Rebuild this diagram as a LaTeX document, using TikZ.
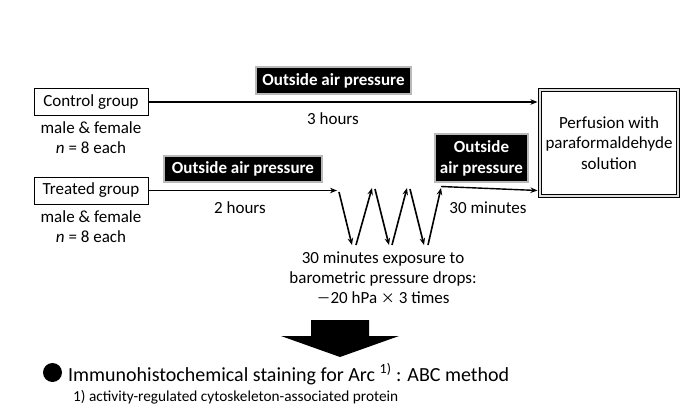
\documentclass[tikz,border=0pt]{standalone}
\usepackage{fontspec}
\setmainfont{Carlito}
\newfontfamily\cjk{Noto Sans CJK JP}
\usetikzlibrary{arrows.meta}
\begin{document}
\begin{tikzpicture}[x=1pt,y=-1pt,
  grp/.style={draw, line width=0.6pt, minimum width=114pt, minimum height=27pt, inner sep=0pt, font=\fontsize{17}{20}\selectfont},
  txt/.style={inner sep=0pt, font=\fontsize{17}{20}\selectfont},
  blk/.style={fill=black, draw=gray!55, line width=1.2pt, text=white, inner sep=0pt, align=center, font=\bfseries\fontsize{17}{20}\selectfont},
  arr/.style={-{Stealth[length=7pt,width=5.5pt]}, line width=1.4pt},
  zz/.style={-{Stealth[length=7pt,width=5.5pt]}, line width=1.6pt}
]
\useasboundingbox (0,0) rectangle (685,412);
% groups
\node[grp] (cg) at (91,102) {Control group};
\node[txt] (cg1) at (91,128) {male \& female};
\node[txt] (cg2) at (91,148) {\textit{n} = 8 each};
\node[grp] (tg) at (91,190.5) {Treated group};
\node[txt] (tg1) at (91,217) {male \& female};
\node[txt] (tg2) at (91,237) {\textit{n} = 8 each};
% perfusion box
\node[draw, line width=1.1pt, double=gray!25, double distance=2.2pt, minimum width=137.6pt, minimum height=105.6pt, inner sep=0pt, align=center, font=\fontsize{17}{20.5}\selectfont] (pf) at (609,143) {Perfusion with\\paraformaldehyde\\solution};
% black labels
\node[blk, minimum width=155pt, minimum height=27pt] (op1) at (333.5,80.5) {Outside air pressure};
\node[blk, minimum width=158pt, minimum height=26pt] (op2) at (243,169) {Outside air pressure};
\node[blk, minimum width=93pt, minimum height=48pt, font=\bfseries\fontsize{17}{21}\selectfont] (op3) at (481.5,158) {Outside\\air pressure};
% duration labels
\node[txt] (h3) at (333,119) {3 hours};
\node[txt] (h2) at (240,208) {2 hours};
\node[txt] (m30) at (488,208) {30 minutes};
\node[txt, align=center, font=\fontsize{17}{20}\selectfont] (exp) at (383,277.5) {30 minutes exposure to\\barometric pressure drops:\\{\cjk\fontsize{14}{14}\selectfont －}20 hPa {\cjk\fontsize{14}{14}\selectfont ×} 3 times};
% control arrow
\coordinate (pfa) at ([xshift=-2.2pt]pf.west |- cg.east);
\draw[arr] (cg.east) -- (pfa);
% treated arrow and zigzag
\coordinate (z0) at (337,190.5);
\coordinate (a0) at (339,192);
\coordinate (b1) at (352,245);
\coordinate (a1) at (356,245);
\coordinate (t1) at (372,188);
\coordinate (a2) at (375,189);
\coordinate (b2) at (389,245);
\coordinate (a3) at (392,245);
\coordinate (t2) at (407,188);
\coordinate (a4) at (410,189);
\coordinate (b3) at (424,245);
\coordinate (a5) at (428,245);
\coordinate (t3) at (441,188);
\coordinate (pfb) at ([xshift=-2.2pt]pf.west |- z0);
\draw[arr] (tg.east) -- (z0);
\draw[zz] (a0) -- (b1);
\draw[zz] (a1) -- (t1);
\draw[zz] (a2) -- (b2);
\draw[zz] (a3) -- (t2);
\draw[zz] (a4) -- (b3);
\draw[zz] (a5) -- (t3);
\draw[arr] ([yshift=1.5pt]t3) -- (pfb);
% big down arrow
\fill (311,320) -- (369,320) -- (369,336) -- (399,336) -- (340,357) -- (281,336) -- (311,336) -- cycle;
% bottom text
\fill (52.5,372.5) circle (9.5pt);
\node[anchor=west, inner sep=0pt, font=\fontsize{20}{22}\selectfont] (ihc) at (68,374) {Immunohistochemical staining for Arc \textsuperscript{1)} : ABC method};
\node[anchor=west, inner sep=0pt, font=\fontsize{15.3}{17}\selectfont] (fn) at (73,397) {1) activity-regulated cytoskeleton-associated protein};
\end{tikzpicture}
\end{document}
